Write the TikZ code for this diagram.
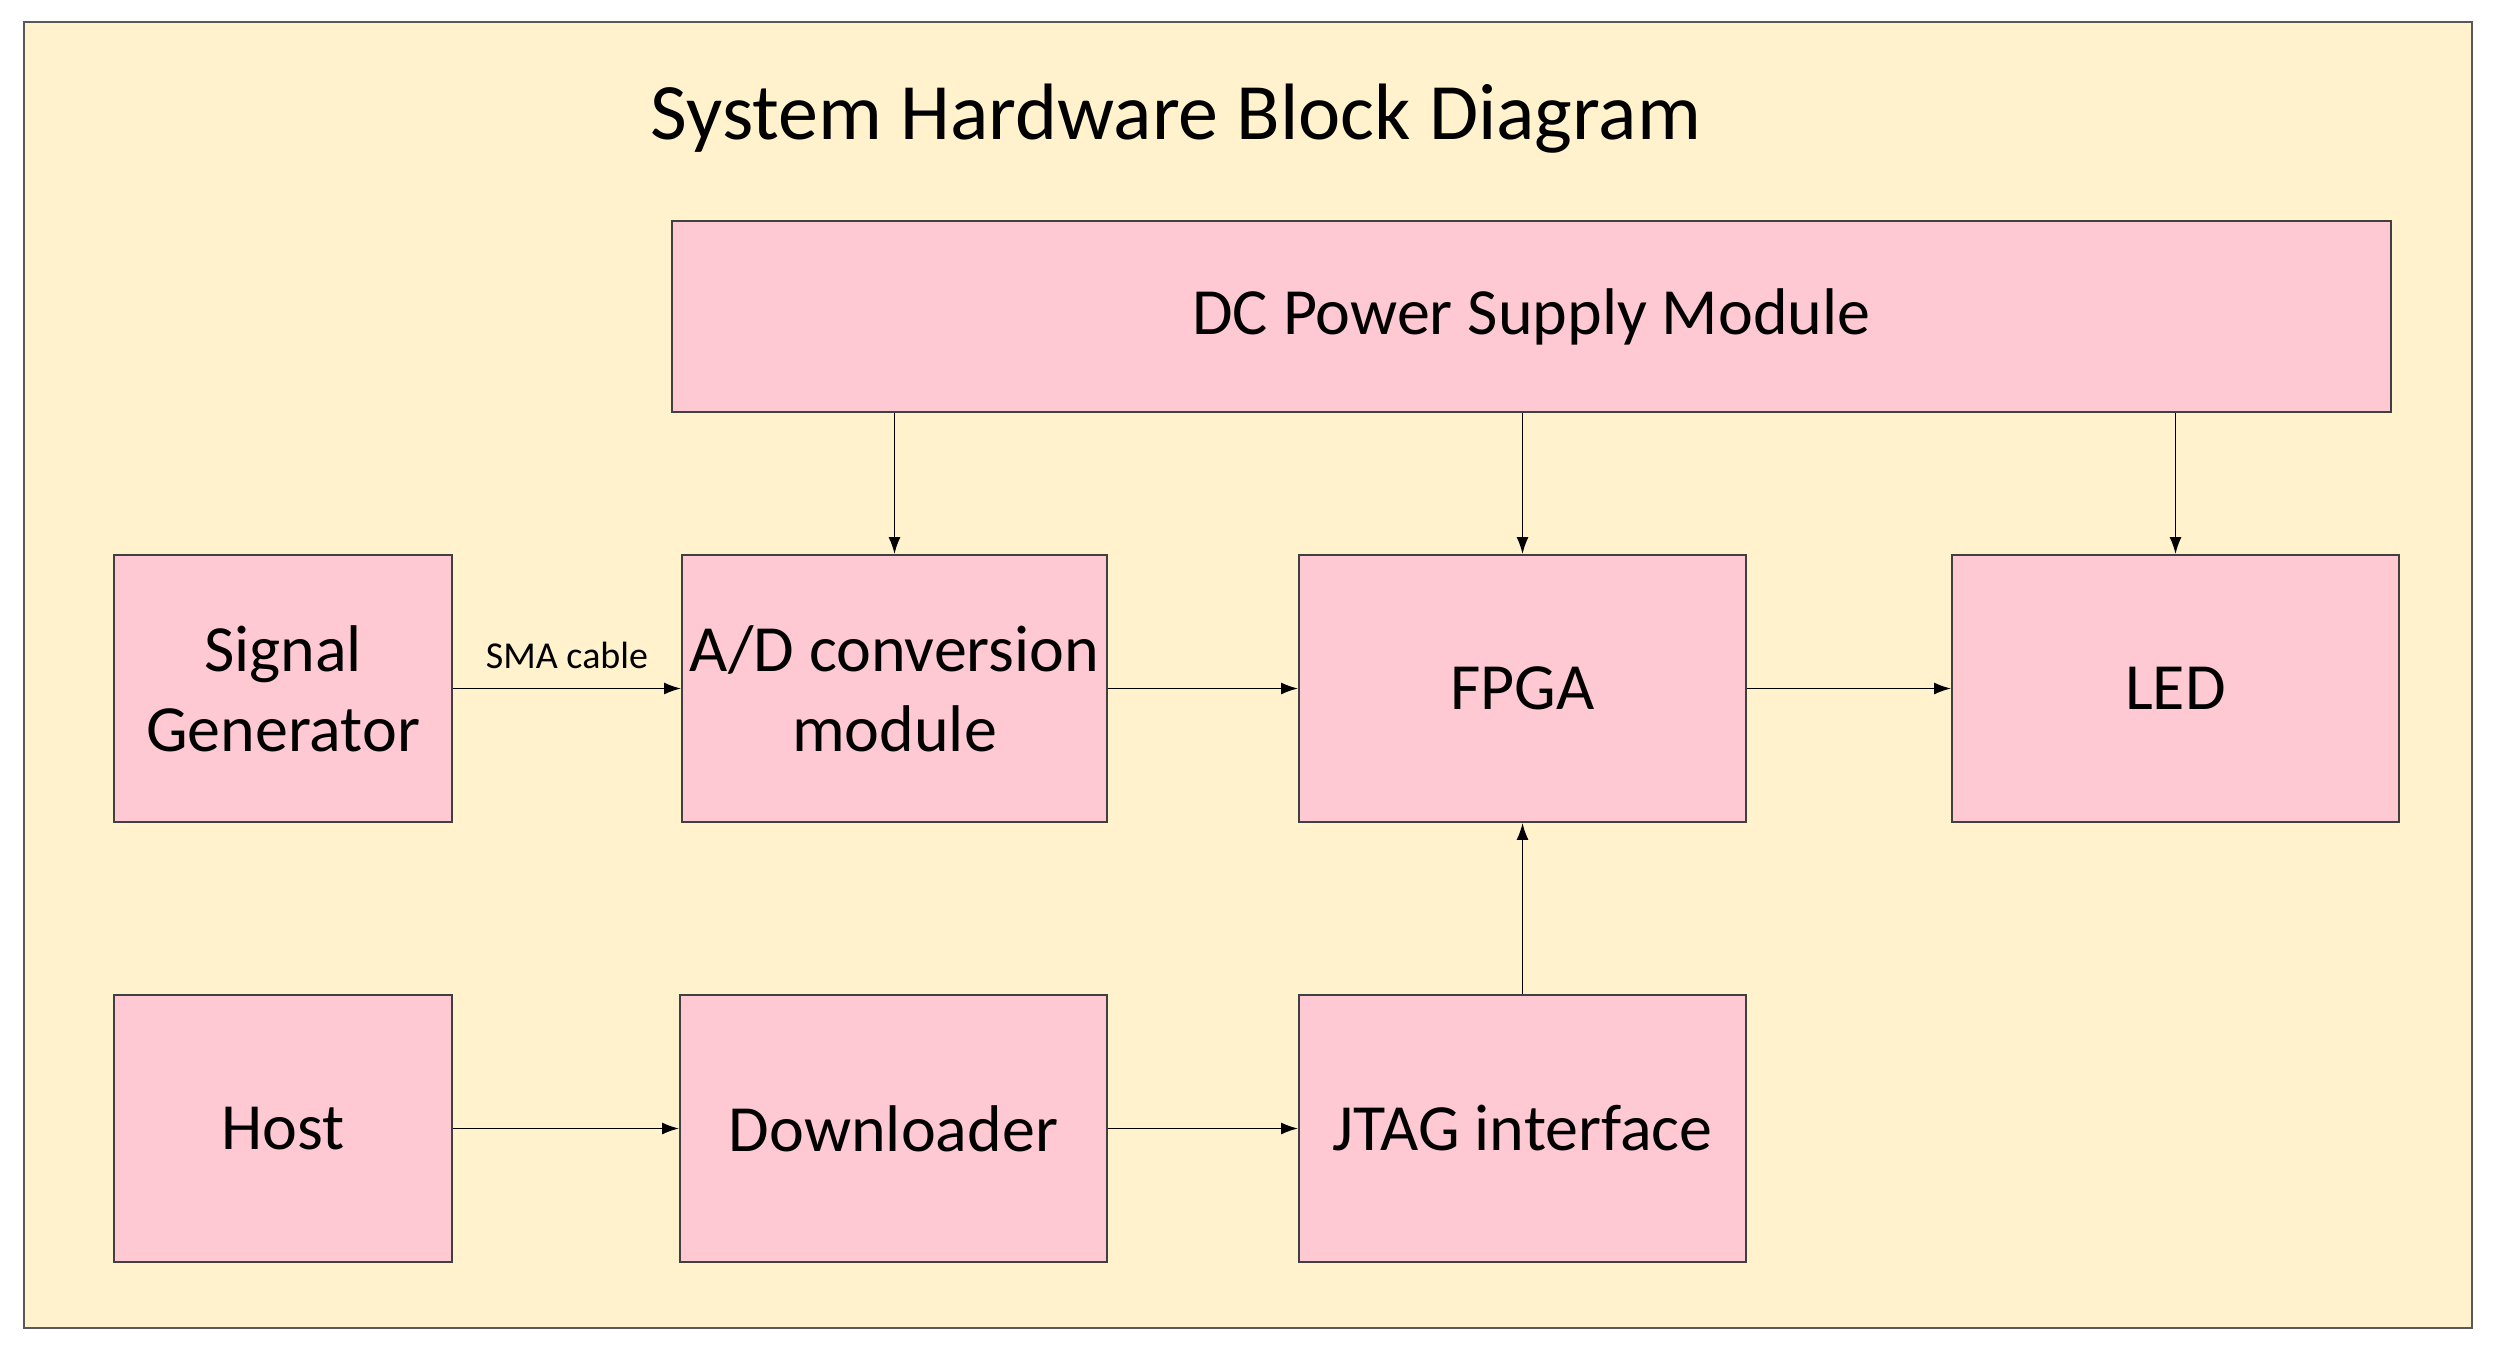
\documentclass[tikz,border=0pt]{standalone}
\usepackage{fontspec}
\setmainfont{Carlito}
\usetikzlibrary{arrows.meta}
\definecolor{bgyellow}{HTML}{FFF2CC}
\definecolor{boxpink}{HTML}{FFC9D3}
\definecolor{edgegray}{HTML}{404040}
\tikzset{
  blk/.style={draw=edgegray, line width=0.9pt, fill=boxpink, inner sep=0pt,
    align=center, font=\fontsize{33}{40}\selectfont},
  conn/.style={draw=black, line width=0.9pt, -{Latex[length=8.5pt,width=6pt]}},
}
\begin{document}
\begin{tikzpicture}[x=0.5pt,y=-0.5pt]
\useasboundingbox (0,0) rectangle (2493,1353);
\draw[draw=black!65, line width=1.4pt, fill=bgyellow] (24,22) rectangle (2472,1328);
\node[font=\fontsize{40}{48}\selectfont] (title) at (1176,119) {System Hardware Block Diagram};
\node[blk, minimum width=859.5pt, minimum height=95.5pt] (dc) at (1531.5,316.5) {DC Power Supply Module};
\node[blk, minimum width=169pt, minimum height=133.5pt] (sg) at (283,688.5) {Signal\\Generator};
\node[blk, minimum width=212.5pt, minimum height=133.5pt] (ad) at (894.5,688.5) {A/D conversion\\module};
\node[blk, minimum width=223.5pt, minimum height=133.5pt] (fpga) at (1522.5,688.5) {FPGA};
\node[blk, minimum width=223.5pt, minimum height=133.5pt] (led) at (2175.5,688.5) {LED};
\node[blk, minimum width=169pt, minimum height=133.5pt] (host) at (283,1128.5) {Host};
\node[blk, minimum width=213.5pt, minimum height=133.5pt] (dl) at (893.5,1128.5) {Downloader};
\node[blk, minimum width=223.5pt, minimum height=133.5pt] (jtag) at (1522.5,1128.5) {JTAG interface};
\draw[conn] (dc.south -| ad.north) -- (ad.north);
\draw[conn] (dc.south -| fpga.north) -- (fpga.north);
\draw[conn] (dc.south -| led.north) -- (led.north);
\draw[conn] (sg.east) -- node[above=6pt, font=\fontsize{19}{22}\selectfont] (sma) {SMA cable} (ad.west);
\draw[conn] (ad.east) -- (fpga.west);
\draw[conn] (fpga.east) -- (led.west);
\draw[conn] (host.east) -- (dl.west);
\draw[conn] (dl.east) -- (jtag.west);
\draw[conn] (jtag.north) -- (fpga.south);
\end{tikzpicture}
\end{document}
